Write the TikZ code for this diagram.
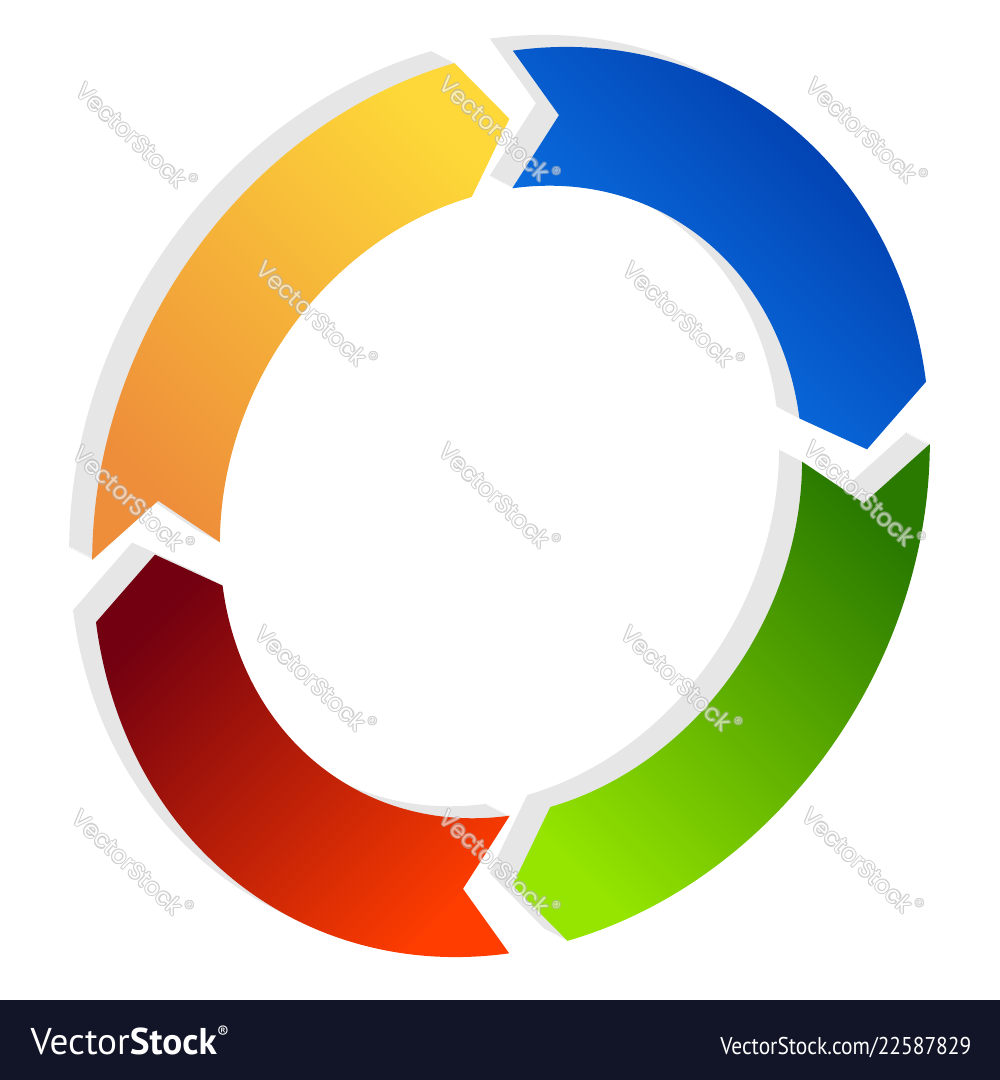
\documentclass[tikz,border=0pt]{standalone}
\usepackage{fontspec}
\usepackage[copies]{contour}
\contourlength{0.3pt}
\contournumber{8}
\newfontfamily\wmfont{Poppins}
\newfontfamily\barfont{PT Sans}
\definecolor{shadowgray}{HTML}{E6E6E6}
\definecolor{barbg}{HTML}{121427}
\definecolor{blueL}{HTML}{0D7DF0}
\definecolor{blueD}{HTML}{0036A5}
\definecolor{greenL}{HTML}{95E500}
\definecolor{greenD}{HTML}{2A7A00}
\definecolor{redD}{HTML}{730010}
\definecolor{redL}{HTML}{FF3D00}
\definecolor{orY}{HTML}{FDD838}
\definecolor{orO}{HTML}{EE8E3A}
\tikzset{
  ring/.style={cm={2.272,4.115,-3.519,1.943,(5.11,5.78)}},
  arcseg/.style={insert path={(#1:1) arc[start angle=#1, end angle=#1-82, radius=1]
     -- ({#1-89.5}:0.85) -- ({#1-82}:0.695)
     arc[start angle=#1-82, end angle=#1, radius=0.695]
     -- ({#1-7.5}:0.85) -- cycle}},
  wm/.style={font=\wmfont\fontsize{6.7}{8}\selectfont, text=white, rotate=-43, inner sep=0pt},
}
\begin{document}
\begin{tikzpicture}
\useasboundingbox (0,0) rectangle (10,10.8);
\fill[white] (0,0) rectangle (10,10.8);
% extruded grey shadow
\foreach \k in {1,...,12}{
  \begin{scope}[shift={({-0.23*\k/12},{0.12*\k/12})}]
    \begin{scope}[ring]
      \foreach \a in {122.6,32.6,-57.4,-147.4} \fill[shadowgray, arcseg=\a];
    \end{scope}
  \end{scope}
}
% coloured arrows
\begin{scope}[ring]
  \shade[arcseg=122.6, top color=orY, bottom color=orO, shading angle=-45];
  \shade[arcseg=32.6, top color=blueD, bottom color=blueL, shading angle=-45];
  \shade[arcseg=-57.4, top color=greenD, bottom color=greenL, shading angle=-45];
  \shade[arcseg=-147.4, top color=redD, bottom color=redL, shading angle=45];
\end{scope}
% watermarks
\begin{scope}[transparency group, opacity=0.6]
\foreach \x/\y [count=\i] in {1.37/9.43, 5.00/9.50, 8.67/9.48, 3.17/7.65, 6.84/7.64,
   1.34/5.80, 5.00/5.83, 8.65/5.85, 3.16/4.00, 6.82/4.00, 1.33/2.16, 5.00/2.16, 8.63/2.18}
  \node[wm] (wm\i) at (\x,\y) {\contour{black!30}{VectorStock}\textsuperscript{\contour{black!30}{\tiny ®}}};
\end{scope}
% bottom bar
\fill[barbg] (0,0) rectangle (10,0.8);
\node[anchor=base west, text=white, inner sep=0pt, font=\barfont\fontsize{10.6}{13}\selectfont] (logo) at (0.30,0.25)
  {Vector\textbf{Stock}\raisebox{0.9ex}{\fontsize{5}{6}\selectfont ®}};
\node[anchor=base east, text=white, inner sep=0pt, font=\barfont\fontsize{6.9}{8}\selectfont] (url) at (9.72,0.25)
  {\scalebox{0.885}[1]{VectorStock.com/22587829}};
\end{tikzpicture}
\end{document}
